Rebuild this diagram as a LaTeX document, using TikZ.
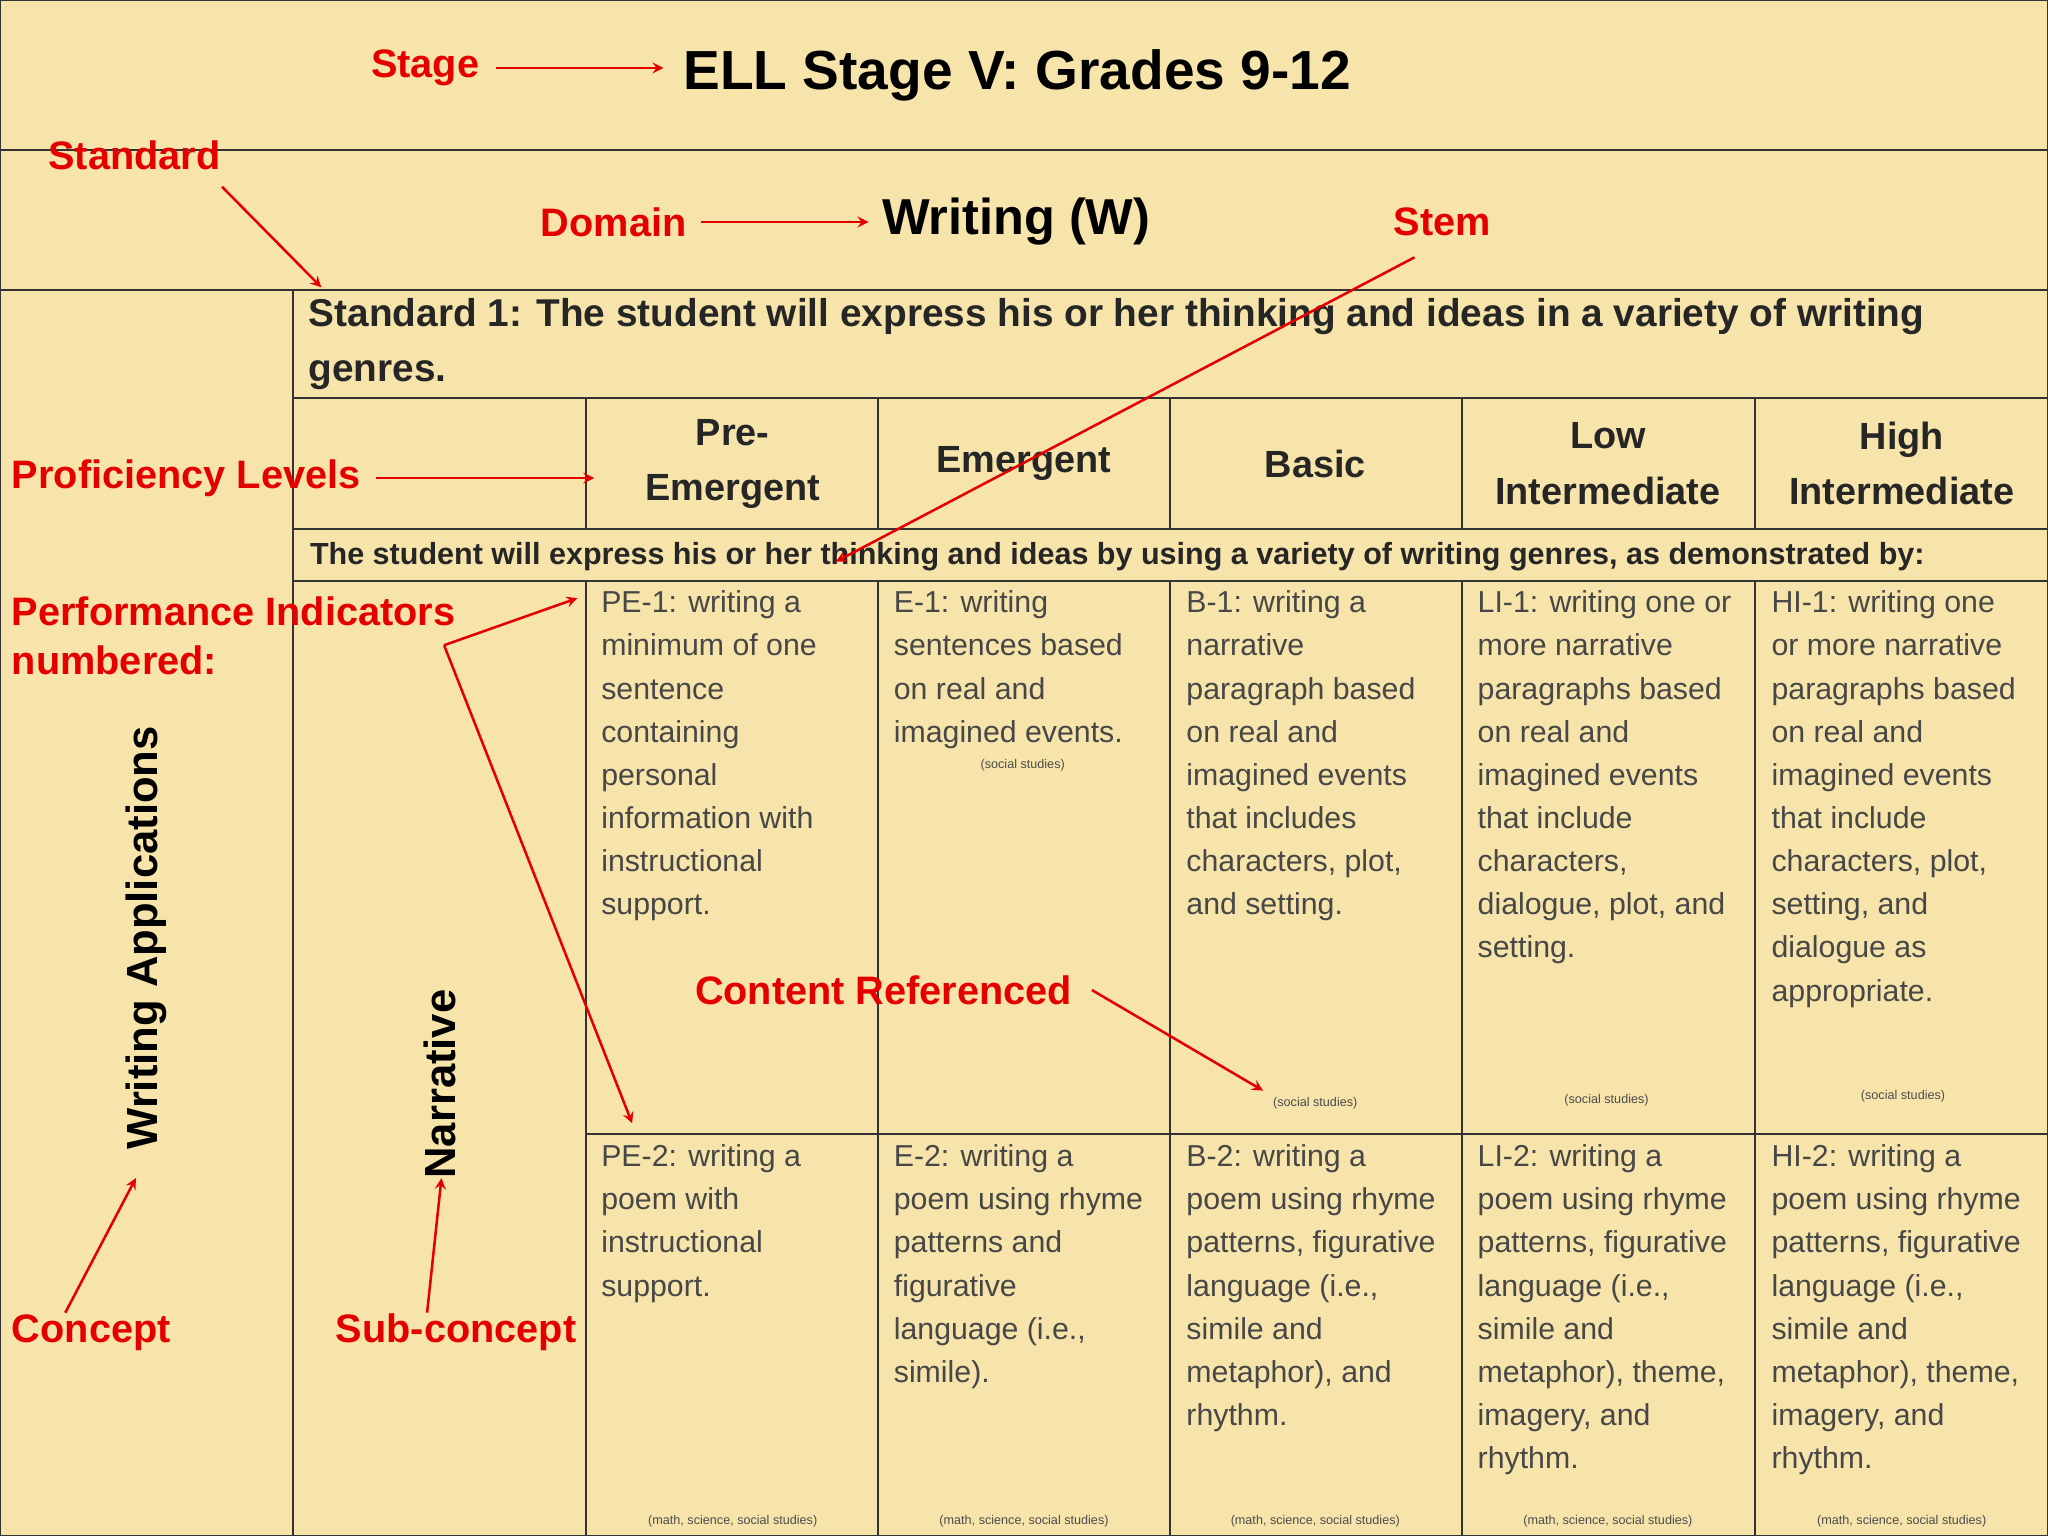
\documentclass[tikz,border=0pt]{standalone}
\usepackage{fontspec}
\setmainfont{Liberation Sans}
\begin{document}
\begin{tikzpicture}[x=0.02cm,y=-0.02cm,
 grid/.style={line width=0.9pt,black!80},
 lab/.style={text=red!90!black,font=\bfseries\fontsize{17.3}{20}\selectfont,inner sep=1pt},
 arr/.style={red!90!black,line width=1.1pt,-stealth},
 cell/.style={anchor=north west,align=left,inner sep=0pt,text=black!72,font=\fontsize{13.2}{18.8}\selectfont},
 lvl/.style={font=\bfseries\fontsize{16.5}{24}\selectfont,align=center,text=black!85},
 tiny/.style={font=\fontsize{5.5}{6}\selectfont,text=black!70}]
\fill[fill={rgb,255:red,246;green,228;blue,170}] (0,0) rectangle (1568,1176);
\useasboundingbox (0,0) rectangle (1568,1176);
\draw[grid] (0,0) rectangle (1568,1176);
\draw[grid] (0,115)--(1568,115) (0,222)--(1568,222) (224,222)--(224,1176)
 (224,305)--(1568,305) (224,405)--(1568,405) (224,445)--(1568,445) (449,868)--(1568,868);
\foreach \x in {449,672,896,1119,1344}{\draw[grid] (\x,305)--(\x,405) (\x,445)--(\x,1176);}
% headings
\node[anchor=west,inner sep=0pt,font=\bfseries\fontsize{24}{26}\selectfont] (title) at (523,58) {ELL Stage V: Grades 9-12};
\node[anchor=west,inner sep=0pt,font=\bfseries\fontsize{22}{24}\selectfont] (dom) at (675,170) {Writing (W)};
\node[anchor=north west,align=left,inner sep=0pt,font=\bfseries\fontsize{16.9}{24}\selectfont,text=black!85] (std) at (236,228) {Standard 1: The student will express his or her thinking and ideas in a variety of writing\\genres.};
\node[lvl] (l1) at (561,355) {Pre-\\Emergent};
\node[lvl] (l2) at (784,355) {Emergent};
\node[lvl] (l3) at (1007,355) {Basic};
\node[lvl] (l4) at (1231,355) {Low\\Intermediate};
\node[lvl] (l5) at (1456,355) {High\\Intermediate};
\node[anchor=west,inner sep=0pt,font=\bfseries\fontsize{13.3}{14}\selectfont,text=black!85] (stem) at (237,426) {The student will express his or her thinking and ideas by using a variety of writing genres, as demonstrated by:};
\node[rotate=90,font=\bfseries\fontsize{19}{22}\selectfont] (wa) at (112,718) {Writing Applications};
\node[rotate=90,font=\bfseries\fontsize{19}{22}\selectfont] (narr) at (337,830) {Narrative};
% row 1
\node[cell] (c11) at (460,452) {PE-1: writing a\\minimum of one\\sentence\\containing\\personal\\information with\\instructional\\support.};
\node[cell] (c12) at (684,452) {E-1: writing\\sentences based\\on real and\\imagined events.};
\node[cell] (c13) at (908,452) {B-1: writing a\\narrative\\paragraph based\\on real and\\imagined events\\that includes\\characters, plot,\\and setting.};
\node[cell] (c14) at (1131,452) {LI-1: writing one or\\more narrative\\paragraphs based\\on real and\\imagined events\\that include\\characters,\\dialogue, plot, and\\setting.};
\node[cell] (c15) at (1356,452) {HI-1: writing one\\or more narrative\\paragraphs based\\on real and\\imagined events\\that include\\characters, plot,\\setting, and\\dialogue as\\appropriate.};
\node[tiny] (s12) at (783,586) {(social studies)};
\node[tiny] (s13) at (1007,845) {(social studies)};
\node[tiny] (s14) at (1230,842) {(social studies)};
\node[tiny] (s15) at (1457,839) {(social studies)};
% row 2
\node[cell] (c21) at (460,876) {PE-2: writing a\\poem with\\instructional\\support.};
\node[cell] (c22) at (684,876) {E-2: writing a\\poem using rhyme\\patterns and\\figurative\\language (i.e.,\\simile).};
\node[cell] (c23) at (908,876) {B-2: writing a\\poem using rhyme\\patterns, figurative\\language (i.e.,\\simile and\\metaphor), and\\rhythm.};
\node[cell] (c24) at (1131,876) {LI-2: writing a\\poem using rhyme\\patterns, figurative\\language (i.e.,\\simile and\\metaphor), theme,\\imagery, and\\rhythm.};
\node[cell] (c25) at (1356,876) {HI-2: writing a\\poem using rhyme\\patterns, figurative\\language (i.e.,\\simile and\\metaphor), theme,\\imagery, and\\rhythm.};
\foreach \n/\x in {1/561,2/784,3/1007,4/1231,5/1456}{\node[tiny] (m\n) at (\x,1165) {(math, science, social studies)};}
% red labels
\node[lab,anchor=west] (lstage) at (282,52) {Stage};
\node[lab,anchor=west] (lstd) at (35,119) {Standard};
\node[lab,anchor=west] (ldom) at (412,170) {Domain};
\node[lab,anchor=west] (lstem) at (1065,170) {Stem};
\node[lab,anchor=west] (lprof) at (7,366) {Proficiency Levels};
\node[lab,anchor=north west,align=left,font=\bfseries\fontsize{17.3}{21}\selectfont] (lperf) at (7,455) {Performance Indicators\\numbered:};
\node[lab,anchor=west] (lcont) at (530,758) {Content Referenced};
\node[lab,anchor=west] (lcon) at (7,1020) {Concept};
\node[lab,anchor=west] (lsub) at (255,1020) {Sub-concept};
\coordinate (p0) at (340,494);
\coordinate (e1) at (508,52);
\coordinate (e2) at (665,170);
\draw[arr] (380,52) -- (e1);
\draw[arr] (170,143) -- (246,220);
\draw[arr] (537,170) -- (e2);
\draw[arr] (1083,197) -- (640,430);
\draw[arr] (288,366) -- (455,366);
\draw[arr] (p0) -- (442,458);
\draw[arr] (p0) -- (484,860);
\draw[arr] (836,758) -- (967,835);
\draw[arr] (50,1005) -- (104,902);
\draw[arr] (327,1005) -- (338,902);
\end{tikzpicture}
\end{document}
